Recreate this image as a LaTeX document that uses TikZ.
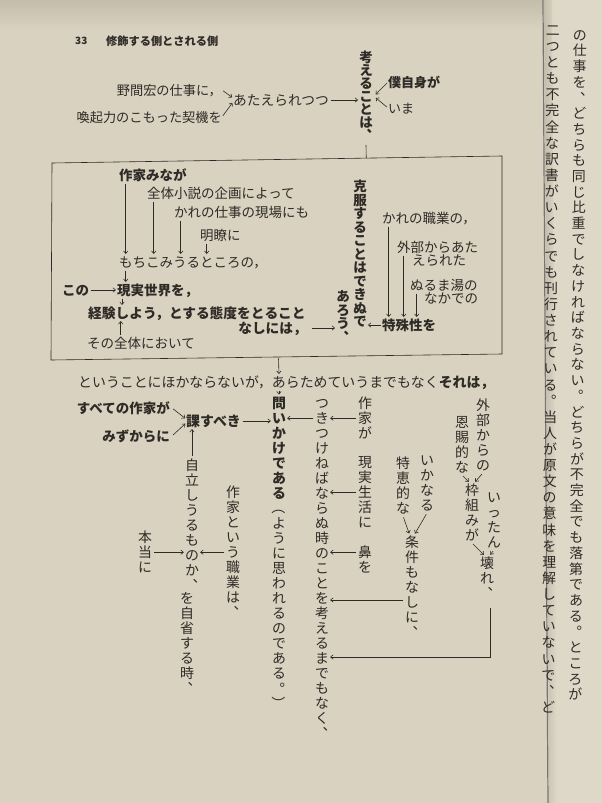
\documentclass[tikz,border=0pt]{standalone}
\usepackage{fontspec}
\setmainfont{Noto Sans CJK JP}
\usepackage{graphicx}
\usetikzlibrary{arrows.meta,calc}

\definecolor{paper}{RGB}{217,210,192}
\definecolor{paperdark}{RGB}{196,189,172}
\definecolor{facing}{RGB}{222,216,200}
\definecolor{ink}{RGB}{46,42,38}

% vertical (tate) text: one character per cell
\newlength\tatepitch
\newcommand\tatestrut{\vrule height \dimexpr.5\tatepitch+.365em\relax depth \dimexpr.5\tatepitch-.365em\relax width 0pt\relax}
\newcommand\tatecell[1]{\hbox to 1em{\tatestrut\hss#1\hss}}
\newcommand\tatepunct[1]{\hbox to 1em{\tatestrut\hskip .55em\rlap{\raise .55em\hbox{#1}}\hss}}
\newcommand\taterot[1]{\hbox to 1em{\tatestrut\hss\raisebox{.05em}[0pt][0pt]{\rotatebox[origin=c]{-90}{#1}}\hss}}
\ExplSyntaxOn
\cs_new:Npn \tate_cell:n #1
  {
    \str_case:nnF {#1}
      {
        {、}{\tatepunct{#1}}
        {。}{\tatepunct{#1}}
        {（}{\taterot{#1}}
        {）}{\taterot{#1}}
      }
      {\tatecell{#1}}
  }
\NewDocumentCommand\tate{O{1.08em}m}
  {
    \setlength\tatepitch{#1}
    \vbox{\offinterlineskip \tl_map_function:nN {#2} \tate_cell:n}
  }
\ExplSyntaxOff

\begin{document}
\begin{tikzpicture}[
    x=1pt, y=-1pt,
    every node/.style={inner sep=0pt, text=ink},
    yoko/.style={font=\fontsize{#1}{16}\selectfont, text height=12pt, text depth=1.6pt, anchor=west},
    yoko/.default=13.7,
    tatec/.style={font=\fontsize{#1}{16}\selectfont, anchor=north},
    tatec/.default=13.9,
    arr/.style={draw=ink, line width=.6pt, -{Straight Barb[length=2.6pt,width=4.4pt]}, shorten <=1.5pt, shorten >=1pt},
    rule/.style={draw=ink, line width=.6pt}
]

    % --- Page ---
    \useasboundingbox (0,0) rectangle (602,803);
    \fill[paper] (0,0) rectangle (602,803);
    \shade[top color=paperdark, bottom color=paper] (0,0) rectangle (602,30);
    \fill[facing] (543,0) -- (602,0) -- (602,803) -- (548,803) -- cycle;
    \shade[left color=paperdark, right color=facing] (544,0) -- (552,0) -- (557,803) -- (549,803) -- cycle;
    \draw[ink!65, line width=1.2pt] (543,0) -- (548,803);

    % --- Running head ---
    \node[anchor=west, font=\fontsize{10}{12}\selectfont\bfseries] (pgno) at (75,41) {33};
    \node[anchor=west, font=\fontsize{11.2}{13}\selectfont\bfseries] (title) at (106,41) {修飾する側とされる側};

    % --- Top line ---
    \node[yoko=13.2, anchor=east] (noma) at (222,90) {野間宏の仕事に，};
    \node[yoko=13.2, anchor=east] (kanki) at (222,117) {喚起力のこもった契機を};
    \node[yoko] (ataer) at (233,100) {あたえられつつ};
    \node[tatec=13.5] (kanga) at (366,50.5) {\bfseries\tate[.96em]{考えることは、}};
    \node[yoko=13] (boku) at (388,82) {\bfseries 僕自身が};
    \node[yoko=13] (ima) at (388,108) {いま};

    \draw[arr] (noma.east) -- ([yshift=2pt]ataer.west);
    \draw[arr] (kanki.east) -- ([yshift=-2pt]ataer.west);
    \draw[arr] (ataer.east) -- (ataer.east -| kanga.west);
    \draw[arr] (boku.west) -- ([xshift=2pt,yshift=1pt]kanga.east);
    \draw[arr] (ima.west) -- ([xshift=2pt,yshift=-1pt]kanga.east);

    % --- Framed part ---
    \coordinate (btl) at (52,163);
    \coordinate (btr) at (502,156);
    \coordinate (bbr) at (502,354);
    \coordinate (bbl) at (51,360);
    \draw[rule] (btl) -- (btr) -- (bbr) -- (bbl) -- cycle;
    \draw[rule] ([yshift=-3pt]kanga.south) -- ($(btl)!(kanga.south)!(btr)$);

    \node[yoko=13.5] (sakka) at (119,175) {\bfseries 作家みなが};
    \node[yoko=13.5] (zentai) at (147,193) {全体小説の企画によって};
    \node[yoko=13.5] (kare) at (174,212) {かれの仕事の現場にも};
    \node[yoko=13.5] (meiryo) at (200,235) {明瞭に};
    \node[yoko=13.5] (mochi) at (119,262) {もちこみうるところの，};
    \node[yoko=13.5] (kono) at (62,290) {\bfseries この};
    \node[yoko=13.5] (genjitsu) at (117,290) {\bfseries 現実世界を，};
    \node[yoko] (keiken) at (88,313) {\bfseries 経験しよう，とする態度をとること};
    \node[yoko, anchor=east] (nashi) at (307,328) {\bfseries なしには，};
    \node[yoko=13.5] (sono) at (87,343) {その全体において};

    \draw[arr] ([xshift=6.75pt]sakka.south west) -- ([xshift=6.75pt]sakka.south west |- mochi.north);
    \draw[arr] ([xshift=6.75pt]zentai.south west) -- ([xshift=6.75pt]zentai.south west |- mochi.north);
    \draw[arr] ([xshift=6.75pt]kare.south west) -- ([xshift=6.75pt]kare.south west |- mochi.north);
    \draw[arr] ([xshift=6.75pt]meiryo.south west) -- ([xshift=6.75pt]meiryo.south west |- mochi.north);
    \draw[arr] ([xshift=6.75pt]mochi.south west) -- ([xshift=6.75pt]mochi.south west |- genjitsu.north);
    \draw[arr] (kono.east) -- (genjitsu.west);
    \draw[arr] ([xshift=5pt]genjitsu.south west) -- ([xshift=5pt]genjitsu.south west |- keiken.north);
    \draw[arr] ([xshift=33.75pt]sono.north west) -- ([xshift=33.75pt]sono.north west |- keiken.south);

    \node[tatec=13.5] (kokufuku) at (360,180) {\bfseries\tate[1em]{克服することはできぬで}};
    \node[tatec=13.5] (arou) at (343,290) {\bfseries\tate[1em]{あろう、}};
    \node[yoko=13.5] (shokugyo) at (382,218) {かれの職業の，};
    \node[yoko=13.5] (gaibu) at (397,247) {外部からあた};
    \node[yoko=13.5] (gaibub) at (412,260) {えられた};
    \node[yoko=13.5] (nuruma) at (410,285) {ぬるま湯の};
    \node[yoko=13.5] (nurumab) at (424,298) {なかでの};
    \node[yoko=13.5] (tokushu) at (382,325) {\bfseries 特殊性を};

    \draw[arr] ([xshift=3pt]nashi.east) -- (nashi.east -| arou.west);
    \draw[arr] ([xshift=6.75pt]shokugyo.south west) -- ([xshift=6.75pt]shokugyo.south west |- tokushu.north);
    \draw[arr] ([xshift=6.75pt]gaibu.south west) -- ([xshift=6.75pt]gaibu.south west |- tokushu.north);
    \draw[arr] ([xshift=6.75pt]nuruma.south west) -- ([xshift=6.75pt]nuruma.south west |- tokushu.north);
    \draw[arr] (tokushu.west) -- (tokushu.west -| kokufuku.east);

    % --- Middle line ---
    \node[yoko=13.9] (iukoto) at (78,382) {ということにほかならないが，あらためていうまでもなく\bfseries それは，};
    \node[tatec] (toi) at (279,395.5) {\bfseries\tate{問いかけである}};
    \node[tatec] (youni) at (toi.south) {\tate{（ように思われるのである。）}};
    \draw[arr] ($(bbl)!(toi.north)!(bbr)$) -- (iukoto.north -| toi.north);
    \draw[arr] (iukoto.south -| toi.north) -- (toi.north);

    % --- Lower part ---
    \node[yoko=13.5, anchor=east] (subete) at (170,408) {\bfseries すべての作家が};
    \node[yoko=13.5, anchor=east] (mizukara) at (170,436) {\bfseries みずからに};
    \node[yoko=13.9] (kasu) at (186,421) {\bfseries 課すべき};
    \node[tatec] (jiritsu) at (192,457.5) {\tate{自立しうるものか、}};
    \node[tatec] (jisei) at (187,590.5) {\tate{を自省する時、}};
    \node[tatec] (hontou) at (145,529.5) {\tate{本当に}};
    \node[tatec] (shokugyob) at (233,484.5) {\tate{作家という職業は、}};

    \draw[arr] ([xshift=2pt]subete.east) -- ([yshift=2pt]kasu.west);
    \draw[arr] ([xshift=2pt]mizukara.east) -- ([yshift=-2pt]kasu.west);
    \draw[arr] (kasu.east) -- (kasu.east -| toi.west);
    \draw[arr] (jiritsu.north) -- (jiritsu.north |- kasu.south);
    \draw[arr] (hontou.east) -- (hontou.east -| jiritsu.west);
    \draw[arr] (shokugyob.west) -- (shokugyob.west -| jiritsu.east);

    \node[tatec] (tsuki) at (322,395.5) {\tate{つきつけねばならぬ時のことを考えるまでもなく、}};
    \node[tatec] (sakkaga) at (365,395.5) {\tate{作家が}};
    \node[tatec] (seikatsu) at (365,454.5) {\tate{現実生活に}};
    \node[tatec] (hana) at (365,544.5) {\tate{鼻を}};

    \draw[arr] (sakkaga.west -| tsuki.west) -- (sakkaga.west -| toi.east);
    \draw[arr] (sakkaga.west) -- (sakkaga.west -| tsuki.east);
    \draw[arr] (seikatsu.west) -- (seikatsu.west -| tsuki.east);
    \draw[arr] ([yshift=7.5pt]hana.west) -- ([yshift=7.5pt]hana.west -| tsuki.east);

    \node[tatec] (gaibuc) at (483,397.5) {\tate{外部からの}};
    \node[tatec] (onshi) at (462,414.5) {\tate{恩賜的な}};
    \node[tatec] (waku) at (472,482.5) {\tate{枠組みが}};
    \node[tatec] (ittan) at (494,489.5) {\tate{いったん}};
    \node[tatec] (koware) at (487,555.5) {\tate{壊れ、}};
    \node[tatec] (ikanaru) at (427,452.5) {\tate{いかなる}};
    \node[tatec] (tokukei) at (403,455.5) {\tate{特恵的な}};
    \node[tatec] (jouken) at (412,534.5) {\tate{条件もなしに、}};

    \draw[arr] (onshi.south) -- ([xshift=-2.5pt]waku.north);
    \draw[arr] (gaibuc.south) -- ([xshift=2.5pt]waku.north);
    \draw[arr] (waku.south) -- ([xshift=-2.5pt]koware.north);
    \draw[arr] (ittan.south) -- ([xshift=2.5pt]koware.north);
    \draw[arr] (tokukei.south) -- ([xshift=-2.5pt]jouken.north);
    \draw[arr] (ikanaru.south) -- ([xshift=2.5pt]jouken.north);
    \draw[arr] (jouken.west |- 0,600) -- (tsuki.east |- 0,600);
    \draw[arr] ([xshift=3pt,yshift=-6pt]koware.south) |- (tsuki.east |- 0,657);

    % --- Facing page ---
    \node[tatec, rotate=-0.4] (facinga) at (553,22) {\tate[1.16em]{二つとも不完全な訳書がいくらでも刊行されている。当人が原文の意味を理解していないで、ど}};
    \node[tatec, rotate=-0.4] (facingb) at (580,27) {\tate[1.13em]{の仕事を、どちらも同じ比重でしなければならない。どちらが不完全でも落第である。ところが}};

\end{tikzpicture}
\end{document}
